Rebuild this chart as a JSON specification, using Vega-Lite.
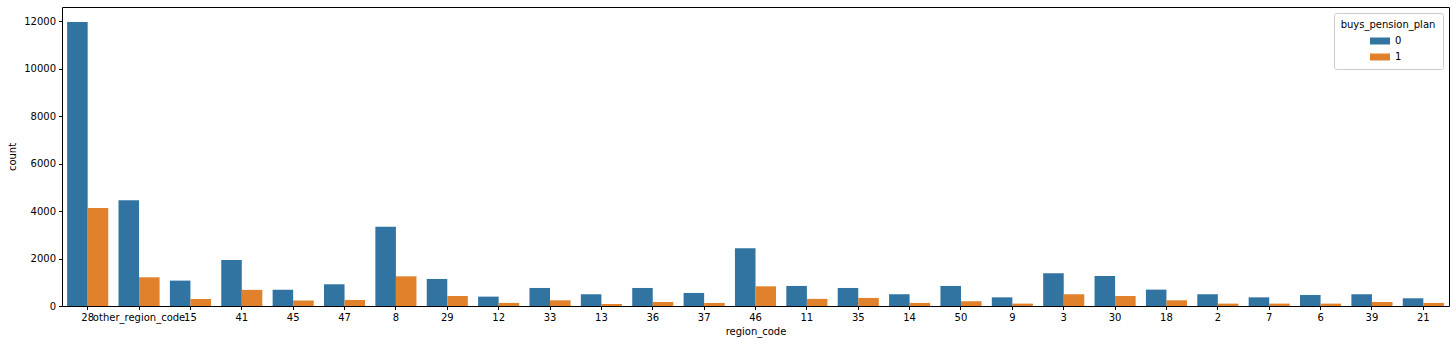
{
  "$schema": "https://vega.github.io/schema/vega-lite/v6.json",
  "autosize": {"type": "none"},
  "width": 1387,
  "height": 299,
  "padding": {"left": 62, "top": 7, "right": 7, "bottom": 42},
  "background": "white",
  "config": {
    "font": "DejaVu Sans",
    "view": {"stroke": "black", "strokeWidth": 1},
    "axis": {
      "domainColor": "black",
      "tickColor": "black",
      "labelColor": "black",
      "titleColor": "black",
      "labelFontSize": 10,
      "titleFontSize": 10,
      "titleFontWeight": "normal",
      "tickSize": 3.5,
      "labelPadding": 3,
      "grid": false
    }
  },
  "data": {
    "values": [
      {"region_code": "28", "buys_pension_plan": "0", "count": 11970},
      {"region_code": "28", "buys_pension_plan": "1", "count": 4130},
      {"region_code": "other_region_code", "buys_pension_plan": "0", "count": 4460},
      {"region_code": "other_region_code", "buys_pension_plan": "1", "count": 1210},
      {"region_code": "15", "buys_pension_plan": "0", "count": 1070},
      {"region_code": "15", "buys_pension_plan": "1", "count": 300},
      {"region_code": "41", "buys_pension_plan": "0", "count": 1940},
      {"region_code": "41", "buys_pension_plan": "1", "count": 680},
      {"region_code": "45", "buys_pension_plan": "0", "count": 680},
      {"region_code": "45", "buys_pension_plan": "1", "count": 230},
      {"region_code": "47", "buys_pension_plan": "0", "count": 915},
      {"region_code": "47", "buys_pension_plan": "1", "count": 255},
      {"region_code": "8", "buys_pension_plan": "0", "count": 3335},
      {"region_code": "8", "buys_pension_plan": "1", "count": 1250},
      {"region_code": "29", "buys_pension_plan": "0", "count": 1140},
      {"region_code": "29", "buys_pension_plan": "1", "count": 420},
      {"region_code": "12", "buys_pension_plan": "0", "count": 395},
      {"region_code": "12", "buys_pension_plan": "1", "count": 130},
      {"region_code": "33", "buys_pension_plan": "0", "count": 760},
      {"region_code": "33", "buys_pension_plan": "1", "count": 240},
      {"region_code": "13", "buys_pension_plan": "0", "count": 495},
      {"region_code": "13", "buys_pension_plan": "1", "count": 85},
      {"region_code": "36", "buys_pension_plan": "0", "count": 760},
      {"region_code": "36", "buys_pension_plan": "1", "count": 170},
      {"region_code": "37", "buys_pension_plan": "0", "count": 550},
      {"region_code": "37", "buys_pension_plan": "1", "count": 130},
      {"region_code": "46", "buys_pension_plan": "0", "count": 2435},
      {"region_code": "46", "buys_pension_plan": "1", "count": 830},
      {"region_code": "11", "buys_pension_plan": "0", "count": 845},
      {"region_code": "11", "buys_pension_plan": "1", "count": 300},
      {"region_code": "35", "buys_pension_plan": "0", "count": 760},
      {"region_code": "35", "buys_pension_plan": "1", "count": 340},
      {"region_code": "14", "buys_pension_plan": "0", "count": 495},
      {"region_code": "14", "buys_pension_plan": "1", "count": 130},
      {"region_code": "50", "buys_pension_plan": "0", "count": 845},
      {"region_code": "50", "buys_pension_plan": "1", "count": 200},
      {"region_code": "9", "buys_pension_plan": "0", "count": 365},
      {"region_code": "9", "buys_pension_plan": "1", "count": 100},
      {"region_code": "3", "buys_pension_plan": "0", "count": 1380},
      {"region_code": "3", "buys_pension_plan": "1", "count": 495},
      {"region_code": "30", "buys_pension_plan": "0", "count": 1265},
      {"region_code": "30", "buys_pension_plan": "1", "count": 420},
      {"region_code": "18", "buys_pension_plan": "0", "count": 690},
      {"region_code": "18", "buys_pension_plan": "1", "count": 240},
      {"region_code": "2", "buys_pension_plan": "0", "count": 495},
      {"region_code": "2", "buys_pension_plan": "1", "count": 100},
      {"region_code": "7", "buys_pension_plan": "0", "count": 365},
      {"region_code": "7", "buys_pension_plan": "1", "count": 100},
      {"region_code": "6", "buys_pension_plan": "0", "count": 465},
      {"region_code": "6", "buys_pension_plan": "1", "count": 100},
      {"region_code": "39", "buys_pension_plan": "0", "count": 495},
      {"region_code": "39", "buys_pension_plan": "1", "count": 170},
      {"region_code": "21", "buys_pension_plan": "0", "count": 325},
      {"region_code": "21", "buys_pension_plan": "1", "count": 130}
    ]
  },
  "mark": {"type": "bar"},
  "encoding": {
    "x": {
      "field": "region_code",
      "type": "nominal",
      "sort": ["28", "other_region_code", "15", "41", "45", "47", "8", "29", "12", "33", "13", "36", "37", "46", "11", "35", "14", "50", "9", "3", "30", "18", "2", "7", "6", "39", "21"],
      "scale": {"paddingInner": 0.2, "paddingOuter": 0.1},
      "axis": {"labelAngle": 0, "labelOverlap": false, "title": "region_code", "titlePadding": 4, "domain": false}
    },
    "xOffset": {
      "field": "buys_pension_plan",
      "type": "nominal",
      "scale": {"paddingInner": 0, "paddingOuter": 0}
    },
    "y": {
      "field": "count",
      "type": "quantitative",
      "scale": {"domain": [0, 12600], "nice": false},
      "axis": {"values": [0, 2000, 4000, 6000, 8000, 10000, 12000], "title": "count", "titlePadding": 6, "format": "d", "domain": false}
    },
    "color": {
      "field": "buys_pension_plan",
      "type": "nominal",
      "scale": {"domain": ["0", "1"], "range": ["#3274a1", "#e1812c"]},
      "legend": {
        "orient": "top-right",
        "offset": 6,
        "title": "buys_pension_plan",
        "titleFontSize": 10,
        "titleFontWeight": "normal",
        "titleColor": "black",
        "titleAnchor": "middle",
        "titlePadding": 6,
        "labelFontSize": 10,
        "labelColor": "black",
        "symbolType": "M-2,-0.7L2,-0.7L2,0.7L-2,0.7Z",
        "symbolSize": 100,
        "symbolStrokeWidth": 0,
        "labelOffset": 10,
        "rowPadding": 6,
        "padding": 7,
        "strokeColor": "#cccccc",
        "fillColor": "white",
        "cornerRadius": 2
      }
    }
  }
}
